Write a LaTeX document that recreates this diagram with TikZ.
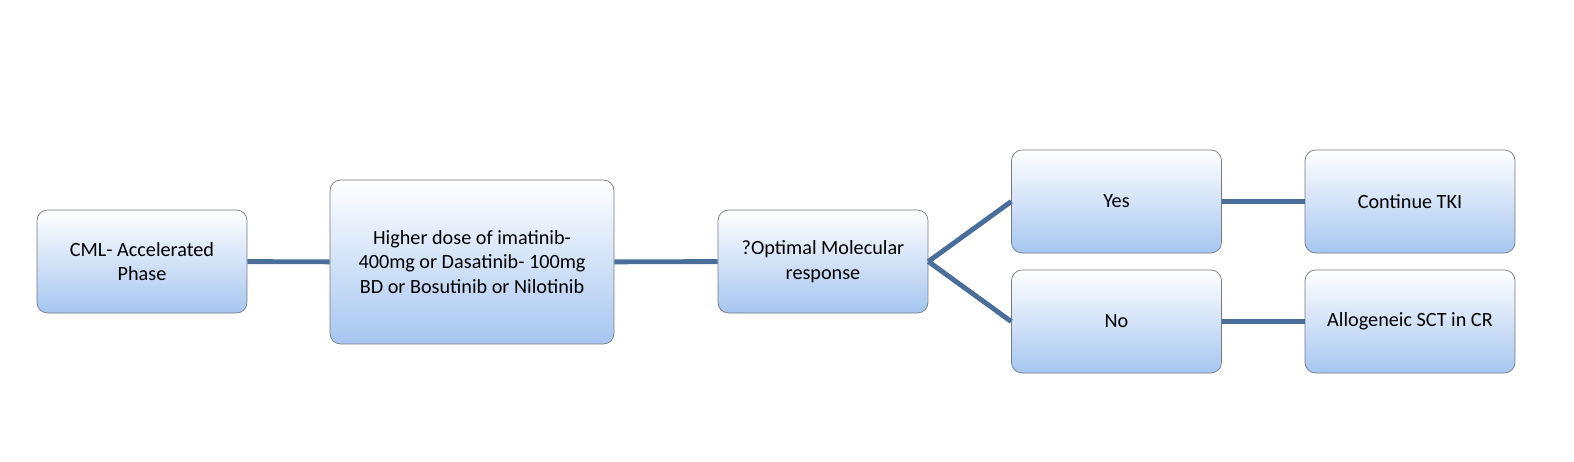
\documentclass[tikz,border=0pt]{standalone}
\usepackage{fontspec}
\setmainfont{Carlito}
\definecolor{edgeblue}{RGB}{74,110,154}
\definecolor{boxblue}{RGB}{166,198,240}
\definecolor{boxline}{RGB}{120,120,130}
\tikzset{
  stage/.style={draw=boxline, rounded corners=6pt, top color=white, bottom color=boxblue,
    minimum width=4.2cm, minimum height=2.06cm, align=center, font=\fontsize{11.5}{14}\selectfont},
  link/.style={draw=edgeblue, line width=2.8pt}
}
\begin{document}
\begin{tikzpicture}[x=0.02cm, y=-0.02cm]
  \useasboundingbox (0,0) rectangle (1574,461);
  \node [stage] (cml) at (142,261.5) {CML- Accelerated\\Phase};
  \node [stage, minimum width=5.68cm, minimum height=3.28cm] (dose) at (472,262)
    {Higher dose of imatinib-\\400mg or Dasatinib- 100mg\\BD or Bosutinib or Nilotinib};
  \node [stage] (resp) at (823,261.5) {?Optimal Molecular\\response};
  \node [stage] (yes) at (1116.5,201.5) {Yes};
  \node [stage] (no) at (1116.5,321.5) {No};
  \node [stage] (cont) at (1410,201.5) {Continue TKI};
  \node [stage] (allo) at (1410,321.5) {Allogeneic SCT in CR};

  \draw [link] (cml) -- (dose);
  \draw [link] (dose) -- (resp);
  \draw [link] (resp.east) -- (yes.west);
  \draw [link] (resp.east) -- (no.west);
  \draw [link] (yes) -- (cont);
  \draw [link] (no) -- (allo);
\end{tikzpicture}
\end{document}
